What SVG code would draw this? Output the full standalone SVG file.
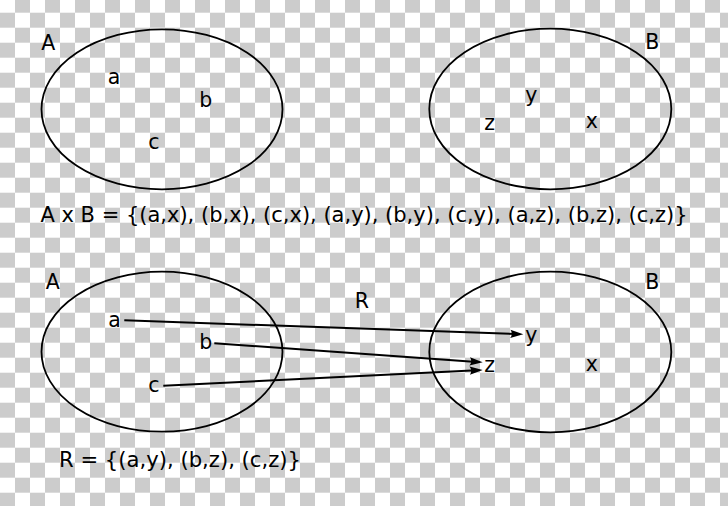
<svg xmlns="http://www.w3.org/2000/svg" width="728" height="506" viewBox="0 0 728 506">
<style>
  text { font-family: "DejaVu Sans", "Liberation Sans", sans-serif; font-size: 20.5px; fill: #000; }
  .set { fill: none; stroke: #000; stroke-width: 1.8; }
  .rel { fill: none; stroke: #000; stroke-width: 2; marker-end: url(#arrow); }
</style>
<defs>
  <pattern id="checker" width="30" height="30" patternUnits="userSpaceOnUse" patternTransform="translate(0,-2.3)">
    <rect width="30" height="30" fill="#ffffff"/>
    <rect x="15" y="0" width="15" height="15" fill="#cccccc"/>
    <rect x="0" y="15" width="15" height="15" fill="#cccccc"/>
  </pattern>
  <marker id="arrow" markerUnits="userSpaceOnUse" markerWidth="20" markerHeight="20" refX="0" refY="0" orient="auto" overflow="visible">
    <path d="M6,0 L-7,-4.2 C-5,-1.7 -5,1.7 -7,4.2 Z" fill="#000"/>
  </marker>
</defs>
<rect width="728" height="506" fill="url(#checker)"/>

<g id="product-A">
  <ellipse class="set" cx="162" cy="109.3" rx="120.5" ry="80"/>
  <text x="41.3" y="50">A</text>
  <text x="107.7" y="84.3">a</text>
  <text x="199.2" y="106.7">b</text>
  <text x="148.2" y="149.3">c</text>
</g>
<g id="product-B">
  <ellipse class="set" cx="550.3" cy="109" rx="121" ry="80.3"/>
  <text x="645.2" y="49.3">B</text>
  <text x="525.2" y="101.5">y</text>
  <text x="484.2" y="130">z</text>
  <text x="585.7" y="128.3">x</text>
</g>
<g id="product-formula">
  <text x="40.5" y="222" textLength="647" lengthAdjust="spacingAndGlyphs">A x B = {(a,x), (b,x), (c,x), (a,y), (b,y), (c,y), (a,z), (b,z), (c,z)}</text>
</g>

<g id="relation-A">
  <ellipse class="set" cx="162" cy="351.7" rx="120.5" ry="80"/>
  <text x="45.8" y="289">A</text>
  <text x="108.2" y="326.7">a</text>
  <text x="199.2" y="349">b</text>
  <text x="148.2" y="392.3">c</text>
</g>
<g id="relation-B">
  <ellipse class="set" cx="550.3" cy="352" rx="121" ry="80.3"/>
  <text x="645.2" y="289.3">B</text>
  <text x="525.2" y="341.7">y</text>
  <text x="484.2" y="372.3">z</text>
  <text x="585.7" y="371">x</text>
</g>
<g id="relation-label">
  <text x="354.8" y="308">R</text>
</g>
<g id="connectors">
  <line class="rel" x1="124.3" y1="320.3" x2="517.3" y2="334.1"/>
  <line class="rel" x1="214.3" y1="343.3" x2="476.7" y2="361.9"/>
  <line class="rel" x1="163.3" y1="385.7" x2="476.7" y2="370.3"/>
</g>
<g id="relation-formula">
  <text x="59" y="467.3" textLength="242" lengthAdjust="spacingAndGlyphs">R = {(a,y), (b,z), (c,z)}</text>
</g>
</svg>
